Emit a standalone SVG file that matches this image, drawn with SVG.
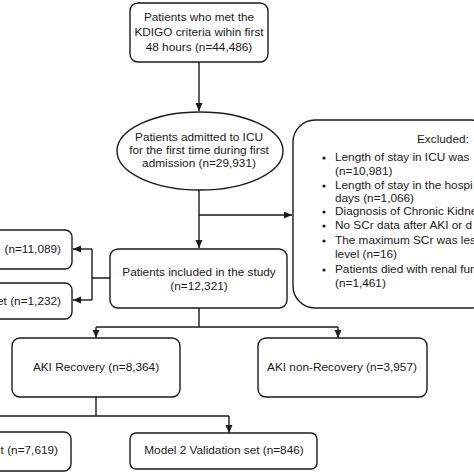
<svg xmlns="http://www.w3.org/2000/svg" width="474" height="474" viewBox="0 0 474 474">
<style>
.b{fill:#fff;stroke:#1a1a1a;stroke-width:1.4}
.c{fill:none;stroke:#1a1a1a;stroke-width:1.4}
text{font-family:"Liberation Sans",Arial,sans-serif;font-size:11.8px;fill:#1a1a1a}
.m{text-anchor:middle}
.e{text-anchor:end}
</style>
<defs>
<marker id="ah" markerUnits="userSpaceOnUse" markerWidth="9" markerHeight="8" refX="8" refY="3.5" orient="auto">
<path d="M0,0 L8,3.5 L0,7 z" fill="#1a1a1a"/>
</marker>
</defs>
<rect width="474" height="474" fill="#fff"/>
<g id="connectors">
<path class="c" d="M199,62 V111" marker-end="url(#ah)"/>
<path class="c" d="M199,190 V248" marker-end="url(#ah)"/>
<path class="c" d="M199,215 H292" marker-end="url(#ah)"/>
<path class="c" d="M110,278 H92 M92,249 V300"/>
<path class="c" d="M92,249 H73" marker-end="url(#ah)"/>
<path class="c" d="M92,300 H73" marker-end="url(#ah)"/>
<path class="c" d="M199,308 V327 M96,327 H338"/>
<path class="c" d="M96,327 V338" marker-end="url(#ah)"/>
<path class="c" d="M338,327 V338" marker-end="url(#ah)"/>
<path class="c" d="M96,397 V416 M-5,416 H229"/>
<path class="c" d="M229,416 V433" marker-end="url(#ah)"/>
</g>
<g id="n_kdigo">
<rect class="b" x="130" y="3" width="138" height="59" rx="8"/>
<text class="m" x="199" y="21">Patients who met the</text>
<text class="m" x="199" y="36">KDIGO criteria wihin first</text>
<text class="m" x="199" y="51">48 hours (n=44,486)</text>
</g>
<g id="n_icu">
<ellipse class="b" cx="200" cy="151" rx="83" ry="39"/>
<text class="m" x="199" y="141">Patients admitted to ICU</text>
<text class="m" x="199" y="154">for the first time during first</text>
<text class="m" x="199" y="167">admission (n=29,931)</text>
</g>
<g id="n_excluded">
<rect class="b" x="293" y="120" width="200" height="188" rx="22"/>
<text x="417" y="143">Excluded:</text>
<g fill="#1a1a1a">
<circle cx="324" cy="158" r="1.6"/>
<circle cx="324" cy="186" r="1.6"/>
<circle cx="324" cy="212" r="1.6"/>
<circle cx="324" cy="226" r="1.6"/>
<circle cx="324" cy="241" r="1.6"/>
<circle cx="324" cy="270" r="1.6"/>
</g>
<text x="335" y="161">Length of stay in ICU was</text>
<text x="335" y="175">(n=10,981)</text>
<text x="335" y="189">Length of stay in the hospi</text>
<text x="335" y="202">days (n=1,066)</text>
<text x="335" y="215">Diagnosis of Chronic Kidne</text>
<text x="335" y="229">No SCr data after AKI or d</text>
<text x="335" y="244">The maximum SCr was les</text>
<text x="335" y="258">level (n=16)</text>
<text x="335" y="273">Patients died with renal fun</text>
<text x="335" y="287">(n=1,461)</text>
</g>
<g id="n_included">
<rect class="b" x="110" y="249" width="177" height="59" rx="8"/>
<text class="m" x="199" y="276">Patients included in the study</text>
<text class="m" x="199" y="290">(n=12,321)</text>
</g>
<g id="n_train1">
<rect class="b" x="-10" y="230" width="82" height="39" rx="7"/>
<text class="e" x="61" y="253">(n=11,089)</text>
</g>
<g id="n_valid1">
<rect class="b" x="-10" y="283" width="82" height="36" rx="7"/>
<text class="e" x="61" y="305">et (n=1,232)</text>
</g>
<g id="n_recovery">
<rect class="b" x="12" y="338" width="168" height="59" rx="8"/>
<text class="m" x="96" y="371">AKI Recovery (n=8,364)</text>
</g>
<g id="n_nonrecovery">
<rect class="b" x="258" y="338" width="169" height="59" rx="8"/>
<text class="m" x="342" y="371">AKI non-Recovery (n=3,957)</text>
</g>
<g id="n_train2">
<rect class="b" x="-10" y="432" width="81" height="39" rx="7"/>
<text class="e" x="58" y="454">t (n=7,619)</text>
</g>
<g id="n_valid2">
<rect class="b" x="130" y="433" width="187" height="36" rx="6"/>
<text class="m" x="224" y="454">Model 2 Validation set (n=846)</text>
</g>
</svg>
